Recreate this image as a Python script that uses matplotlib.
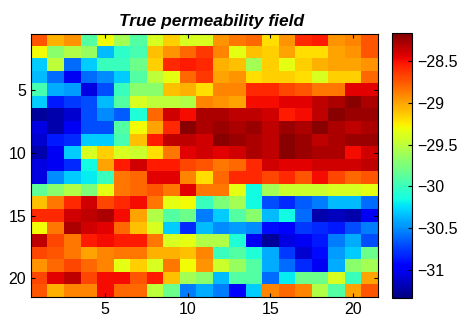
import matplotlib
matplotlib.use("Agg")
import matplotlib.pyplot as plt
import numpy as np

plt.rcParams['font.family'] = ['Liberation Sans', 'DejaVu Sans']

# log-permeability values, row 1 at the top
field = np.array([
    [-28.75, -29.05, -28.95, -29.9, -29.3, -29.6, -29.9, -29.4, -29.15, -29.4, -29.4,
     -28.95, -28.85, -28.8, -29.2, -28.95, -28.6, -28.55, -28.95, -28.9, -28.75],
    [-29.3, -29.7, -29.55, -29.65, -30.35, -30.05, -29.95, -29.1, -28.95, -28.8, -28.65,
     -28.9, -29.35, -29.1, -29.15, -29.0, -29.2, -29.2, -29.0, -28.95, -28.75],
    [-30.3, -29.5, -30.6, -30.3, -30.0, -30.0, -29.8, -29.15, -28.6, -28.55, -28.6,
     -29.05, -29.1, -29.6, -29.15, -29.35, -29.15, -29.05, -29.0, -29.0, -28.95],
    [-30.35, -30.6, -31.0, -30.6, -30.5, -30.3, -29.9, -29.5, -29.35, -28.8, -28.65,
     -29.0, -28.95, -29.2, -29.15, -29.15, -29.2, -29.4, -29.15, -29.15, -28.8],
    [-29.95, -30.4, -30.45, -31.05, -30.7, -30.0, -29.7, -29.7, -29.1, -29.05, -29.2,
     -28.9, -28.9, -28.6, -28.6, -28.7, -28.75, -28.85, -28.85, -28.45, -28.45],
    [-30.3, -30.85, -30.75, -30.7, -30.35, -29.9, -29.4, -29.5, -29.5, -29.55, -28.9,
     -28.95, -29.0, -28.5, -28.5, -28.45, -28.45, -28.35, -28.3, -28.2, -28.3],
    [-31.25, -31.2, -31.1, -30.7, -30.5, -30.65, -30.1, -28.8, -28.4, -28.5, -28.3,
     -28.3, -28.35, -28.35, -28.4, -28.55, -28.5, -28.35, -28.2, -28.25, -28.25],
    [-31.05, -31.2, -31.0, -30.7, -30.7, -29.9, -29.3, -29.0, -28.6, -28.2, -28.3,
     -28.25, -28.3, -28.25, -28.35, -28.25, -28.3, -28.2, -28.3, -28.35, -28.3],
    [-31.1, -30.85, -30.8, -30.3, -30.3, -29.95, -29.1, -28.55, -28.35, -28.35, -28.4,
     -28.2, -28.25, -28.3, -28.35, -28.2, -28.25, -28.35, -28.3, -28.25, -28.25],
    [-31.2, -31.0, -30.3, -29.4, -29.15, -29.4, -29.45, -29.2, -28.85, -28.45, -28.4,
     -28.45, -28.4, -28.3, -28.35, -28.2, -28.25, -28.3, -28.3, -28.5, -28.4],
    [-31.05, -31.0, -30.8, -30.15, -29.0, -28.55, -28.4, -28.55, -28.55, -28.7, -28.75,
     -28.85, -28.8, -28.6, -28.4, -28.45, -28.45, -28.4, -28.4, -28.4, -28.35],
    [-31.05, -30.5, -30.3, -30.2, -30.0, -28.85, -28.8, -28.45, -28.45, -28.9, -29.2,
     -28.8, -28.6, -28.6, -28.7, -28.6, -28.75, -28.5, -28.7, -28.8, -28.75],
    [-29.85, -29.7, -29.55, -29.75, -29.35, -28.85, -28.8, -28.75, -28.85, -28.45, -28.85,
     -28.85, -29.35, -30.15, -29.6, -29.45, -29.45, -29.45, -29.4, -29.4, -29.35],
    [-29.1, -28.85, -28.6, -28.4, -28.7, -28.6, -28.5, -28.85, -29.35, -29.3, -30.0,
     -29.75, -29.6, -30.15, -30.7, -30.8, -30.65, -30.55, -30.35, -30.35, -30.6],
    [-28.6, -28.6, -28.4, -28.35, -28.3, -28.5, -29.0, -29.55, -29.9, -29.8, -30.55,
     -30.3, -29.9, -29.7, -30.35, -30.15, -30.6, -31.2, -31.15, -31.2, -31.0],
    [-29.3, -28.85, -28.3, -28.4, -28.45, -28.8, -29.1, -29.4, -30.3, -30.8, -30.35,
     -30.5, -30.45, -30.5, -30.9, -30.95, -30.75, -30.8, -30.85, -30.7, -30.55],
    [-28.35, -28.7, -28.85, -28.55, -28.5, -28.55, -28.55, -28.85, -29.4, -29.35, -29.55,
     -29.55, -30.1, -31.0, -31.25, -31.05, -31.0, -30.85, -30.55, -30.4, -30.7],
    [-28.7, -28.75, -28.85, -29.0, -28.9, -28.85, -28.85, -29.05, -29.05, -29.1, -28.9,
     -30.0, -29.9, -30.1, -30.4, -30.75, -31.1, -30.9, -30.45, -30.3, -29.8],
    [-28.95, -28.8, -28.7, -28.8, -28.9, -29.35, -29.15, -29.4, -28.85, -29.3, -28.95,
     -29.45, -29.65, -29.9, -30.4, -30.6, -30.8, -31.0, -30.4, -29.7, -29.6],
    [-28.7, -28.45, -28.35, -28.7, -28.5, -28.5, -28.75, -28.55, -29.1, -29.6, -29.7,
     -30.35, -29.9, -29.9, -30.6, -30.2, -29.8, -29.8, -29.4, -30.0, -29.0],
    [-28.75, -29.05, -28.9, -28.9, -28.5, -28.8, -28.8, -29.5, -29.8, -30.55, -30.4,
     -30.55, -30.95, -30.3, -28.9, -28.8, -28.9, -29.55, -29.9, -29.0, -28.75],
])

cmin, cmax = -31.33, -28.17
grid_ticks = [5, 10, 15, 20]
cbar_ticks = [-31, -30.5, -30, -29.5, -29, -28.5]
cbar_labels = ['\u221231', '\u221230.5', '\u221230', '\u221229.5', '\u221229', '\u221228.5']

fig = plt.figure(figsize=(4.74, 3.33), dpi=100)
ax = fig.add_axes([0.0654, 0.108, 0.7316, 0.790])
cax = fig.add_axes([0.827, 0.105, 0.042, 0.796])

n = field.shape[0]
im = ax.imshow(field, cmap='jet', vmin=cmin, vmax=cmax, aspect='auto',
               interpolation='nearest', extent=(0.5, n + 0.5, n + 0.5, 0.5))
ax.set_xticks(grid_ticks)
ax.set_yticks(grid_ticks)
ax.tick_params(direction='in', length=3, labelsize=11.5, top=True, right=True)
ax.set_title('True permeability field', fontsize=12.5, fontweight='bold',
             style='italic', pad=6, x=0.52)

cb = fig.colorbar(im, cax=cax)
cb.set_ticks(cbar_ticks)
cb.set_ticklabels(cbar_labels)
cb.ax.tick_params(direction='in', length=3, labelsize=11.5)
cb.outline.set_linewidth(0.8)

fig.savefig('out.png', dpi=100)
